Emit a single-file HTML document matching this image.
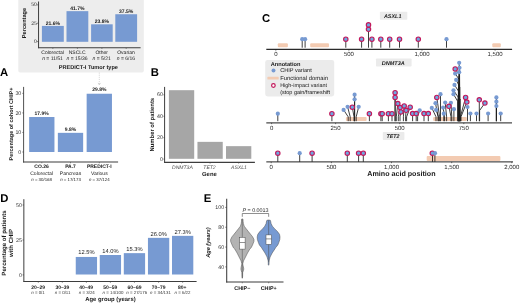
<!DOCTYPE html>
<html lang="en">
<head>
<meta charset="utf-8">
<title>CHIP prevalence figure</title>
<style>
html, body { margin: 0; padding: 0; background: #ffffff; }
body { width: 520px; height: 303px; overflow: hidden; }
svg { display: block; text-rendering: geometricPrecision; font-family: "Liberation Sans", Arial, Helvetica, sans-serif; }
</style>
</head>
<body>
<svg width="520" height="303" viewBox="0 0 520 303">
<rect x="0" y="0" width="520" height="303" fill="#ffffff"/>
<g id="inset">
<rect x="18.30" y="-3.00" width="125.50" height="75.50" fill="#ededed" rx="1.8"/>
<rect x="41.90" y="25.92" width="21.90" height="15.88" fill="#779ad2"/>
<text x="52.8" y="24.5" font-size="5.05" font-weight="bold" text-anchor="middle" fill="#1a1a1a">21.6%</text>
<line x1="52.85" y1="47.80" x2="52.85" y2="49.00" stroke="#3d3d3d" stroke-width="0.5"/>
<text x="52.6" y="53.9" font-size="5" text-anchor="middle" fill="#1a1a1a">Colorectal</text>
<text x="52.5" y="60.4" font-size="5" text-anchor="middle" fill="#1a1a1a"><tspan font-style="italic">n</tspan> = 11/51</text>
<rect x="66.50" y="11.15" width="21.80" height="30.65" fill="#779ad2"/>
<text x="77.4" y="9.8" font-size="5.05" font-weight="bold" text-anchor="middle" fill="#1a1a1a">41.7%</text>
<line x1="77.40" y1="47.80" x2="77.40" y2="49.00" stroke="#3d3d3d" stroke-width="0.5"/>
<text x="77.2" y="53.9" font-size="5" text-anchor="middle" fill="#1a1a1a">NSCLC</text>
<text x="77.1" y="60.4" font-size="5" text-anchor="middle" fill="#1a1a1a"><tspan font-style="italic">n</tspan> = 15/36</text>
<rect x="91.10" y="24.31" width="21.60" height="17.49" fill="#779ad2"/>
<text x="101.9" y="22.9" font-size="5.05" font-weight="bold" text-anchor="middle" fill="#1a1a1a">23.8%</text>
<line x1="101.90" y1="47.80" x2="101.90" y2="49.00" stroke="#3d3d3d" stroke-width="0.5"/>
<text x="101.7" y="53.9" font-size="5" text-anchor="middle" fill="#1a1a1a">Other</text>
<text x="101.6" y="60.4" font-size="5" text-anchor="middle" fill="#1a1a1a"><tspan font-style="italic">n</tspan> = 5/21</text>
<rect x="115.30" y="14.24" width="21.80" height="27.56" fill="#779ad2"/>
<text x="126.2" y="12.8" font-size="5.05" font-weight="bold" text-anchor="middle" fill="#1a1a1a">37.5%</text>
<line x1="126.20" y1="47.80" x2="126.20" y2="49.00" stroke="#3d3d3d" stroke-width="0.5"/>
<text x="126.0" y="53.9" font-size="5" text-anchor="middle" fill="#1a1a1a">Ovarian</text>
<text x="125.9" y="60.4" font-size="5" text-anchor="middle" fill="#1a1a1a"><tspan font-style="italic">n</tspan> = 6/16</text>
<line x1="38.55" y1="1.50" x2="38.55" y2="48.20" stroke="#3d3d3d" stroke-width="1.0"/>
<line x1="38.10" y1="47.70" x2="140.60" y2="47.70" stroke="#3d3d3d" stroke-width="1.05"/>
<line x1="36.80" y1="41.60" x2="38.50" y2="41.60" stroke="#3d3d3d" stroke-width="0.6"/>
<text x="36.9" y="43.2" font-size="5.15" text-anchor="end" fill="#333">0</text>
<line x1="36.80" y1="23.22" x2="38.50" y2="23.22" stroke="#3d3d3d" stroke-width="0.6"/>
<text x="36.9" y="24.8" font-size="5.15" text-anchor="end" fill="#333">25</text>
<line x1="36.80" y1="4.85" x2="38.50" y2="4.85" stroke="#3d3d3d" stroke-width="0.6"/>
<text x="36.9" y="6.4" font-size="5.15" text-anchor="end" fill="#333">50</text>
<text x="26.4" y="23" font-size="5.65" font-weight="bold" text-anchor="middle" fill="#1a1a1a" transform="rotate(-90 26.4 23)">Percentage</text>
<text x="88.35" y="68.6" font-size="5.6" font-weight="bold" text-anchor="middle" fill="#1a1a1a">PREDICT-I Tumor type</text>
</g>
<g id="A">
<text x="-0.1" y="75.7" font-size="11.3" font-weight="bold" fill="#000">A</text>
<line x1="99.30" y1="72.60" x2="99.30" y2="84.00" stroke="#b5b5b5" stroke-width="0.55" stroke-dasharray="1.1 1"/>
<path d="M98.1 82.9 L99.3 84.9 L100.5 82.9" fill="none" stroke="#b5b5b5" stroke-width="0.55"/>
<rect x="29.15" y="117.01" width="25.30" height="34.99" fill="#779ad2"/>
<text x="41.6" y="114.8" font-size="5" font-weight="bold" text-anchor="middle" fill="#1a1a1a">17.9%</text>
<line x1="41.80" y1="162.00" x2="41.80" y2="163.30" stroke="#3d3d3d" stroke-width="0.5"/>
<text x="41.6" y="167.9" font-size="5" font-weight="bold" text-anchor="middle" fill="#1a1a1a">CO.26</text>
<text x="41.6" y="175.3" font-size="5.05" text-anchor="middle" fill="#1a1a1a">Colorectal</text>
<text x="41.6" y="180.6" font-size="4.35" text-anchor="middle" fill="#222"><tspan font-style="italic">n</tspan> = 30/168</text>
<rect x="57.85" y="132.84" width="25.30" height="19.16" fill="#779ad2"/>
<text x="70.5" y="130.6" font-size="5" font-weight="bold" text-anchor="middle" fill="#1a1a1a">9.8%</text>
<line x1="70.50" y1="162.00" x2="70.50" y2="163.30" stroke="#3d3d3d" stroke-width="0.5"/>
<text x="70.5" y="167.9" font-size="5" font-weight="bold" text-anchor="middle" fill="#1a1a1a">PA.7</text>
<text x="70.5" y="175.3" font-size="5.05" text-anchor="middle" fill="#1a1a1a">Pancreas</text>
<text x="70.5" y="180.6" font-size="4.35" text-anchor="middle" fill="#222"><tspan font-style="italic">n</tspan> = 17/173</text>
<rect x="86.65" y="93.74" width="25.30" height="58.26" fill="#779ad2"/>
<text x="99.3" y="91.1" font-size="5" font-weight="bold" text-anchor="middle" fill="#1a1a1a">29.8%</text>
<line x1="99.30" y1="162.00" x2="99.30" y2="163.30" stroke="#3d3d3d" stroke-width="0.5"/>
<text x="99.3" y="167.9" font-size="5" font-weight="bold" text-anchor="middle" fill="#1a1a1a">PREDICT-I</text>
<text x="99.3" y="175.3" font-size="5.05" text-anchor="middle" fill="#1a1a1a">Various</text>
<text x="99.3" y="180.6" font-size="4.35" text-anchor="middle" fill="#222"><tspan font-style="italic">n</tspan> = 37/124</text>
<line x1="23.60" y1="86.90" x2="23.60" y2="162.50" stroke="#3d3d3d" stroke-width="0.9"/>
<line x1="23.10" y1="161.95" x2="118.10" y2="161.95" stroke="#3d3d3d" stroke-width="1.1"/>
<line x1="22.30" y1="152.00" x2="23.60" y2="152.00" stroke="#3d3d3d" stroke-width="0.6"/>
<text x="21.3" y="153.8" font-size="5.3" text-anchor="end" fill="#333333">0</text>
<line x1="22.30" y1="132.45" x2="23.60" y2="132.45" stroke="#3d3d3d" stroke-width="0.6"/>
<text x="21.3" y="134.3" font-size="5.3" text-anchor="end" fill="#333333">10</text>
<line x1="22.30" y1="112.90" x2="23.60" y2="112.90" stroke="#3d3d3d" stroke-width="0.6"/>
<text x="21.3" y="114.8" font-size="5.3" text-anchor="end" fill="#333333">20</text>
<line x1="22.30" y1="93.35" x2="23.60" y2="93.35" stroke="#3d3d3d" stroke-width="0.6"/>
<text x="21.3" y="95.2" font-size="5.3" text-anchor="end" fill="#333333">30</text>
<text x="13.2" y="124.0" font-size="5.5" font-weight="bold" text-anchor="middle" fill="#1a1a1a" transform="rotate(-90 13.2 124.0)">Percentage of cohort CHIP+</text>
</g>
<g id="B">
<text x="150.8" y="75.8" font-size="11.3" font-weight="bold" fill="#000">B</text>
<rect x="168.90" y="90.19" width="25.30" height="68.61" fill="#a6a6a6"/>
<line x1="181.55" y1="162.40" x2="181.55" y2="163.70" stroke="#3d3d3d" stroke-width="0.5"/>
<text x="182.4" y="168.9" font-size="5.05" font-style="italic" text-anchor="middle" fill="#4d4d4d">DNMT3A</text>
<rect x="197.45" y="141.86" width="25.30" height="16.94" fill="#a6a6a6"/>
<line x1="210.10" y1="162.40" x2="210.10" y2="163.70" stroke="#3d3d3d" stroke-width="0.5"/>
<text x="209.5" y="168.9" font-size="5.05" font-style="italic" text-anchor="middle" fill="#4d4d4d">TET2</text>
<rect x="226.00" y="146.15" width="25.30" height="12.65" fill="#a6a6a6"/>
<line x1="238.65" y1="162.40" x2="238.65" y2="163.70" stroke="#3d3d3d" stroke-width="0.5"/>
<text x="238.9" y="168.9" font-size="5.05" font-style="italic" text-anchor="middle" fill="#4d4d4d">ASXL1</text>
<line x1="164.60" y1="86.90" x2="164.60" y2="162.90" stroke="#3d3d3d" stroke-width="1.0"/>
<line x1="164.10" y1="162.40" x2="254.90" y2="162.40" stroke="#3d3d3d" stroke-width="1.1"/>
<line x1="163.30" y1="159.10" x2="164.60" y2="159.10" stroke="#3d3d3d" stroke-width="0.6"/>
<text x="162.9" y="160.7" font-size="5.3" text-anchor="end" fill="#333333">0</text>
<line x1="163.30" y1="137.66" x2="164.60" y2="137.66" stroke="#3d3d3d" stroke-width="0.6"/>
<text x="162.9" y="139.2" font-size="5.3" text-anchor="end" fill="#333333">20</text>
<line x1="163.30" y1="116.22" x2="164.60" y2="116.22" stroke="#3d3d3d" stroke-width="0.6"/>
<text x="162.9" y="117.8" font-size="5.3" text-anchor="end" fill="#333333">40</text>
<line x1="163.30" y1="94.78" x2="164.60" y2="94.78" stroke="#3d3d3d" stroke-width="0.6"/>
<text x="162.9" y="96.3" font-size="5.3" text-anchor="end" fill="#333333">60</text>
<text x="153.9" y="124.7" font-size="5.9" font-weight="bold" text-anchor="middle" fill="#1a1a1a" transform="rotate(-90 153.9 124.7)">Number of patients</text>
<text x="209.4" y="175.6" font-size="5.9" font-weight="bold" text-anchor="middle" fill="#1a1a1a">Gene</text>
</g>
<g id="C">
<text x="261.9" y="21.6" font-size="11.3" font-weight="bold" fill="#000">C</text>
<rect x="379.90" y="11.70" width="27.40" height="8.00" fill="#ebebeb" rx="0.8"/>
<text x="392.7" y="17.7" font-size="5.45" font-weight="bold" font-style="italic" text-anchor="middle" fill="#1a1a1a">ASXL1</text>
<rect x="277.80" y="43.20" width="10.10" height="4.00" fill="#f3cbb2" rx="1.0"/>
<rect x="310.20" y="43.20" width="18.80" height="4.00" fill="#f3cbb2" rx="1.0"/>
<rect x="492.30" y="43.20" width="8.50" height="4.00" fill="#f3cbb2" rx="1.0"/>
<path d="M302.2 47.7V40.0" stroke="#1c1c1c" stroke-width="0.85" fill="none"/>
<path d="M305.1 47.7V40.0" stroke="#1c1c1c" stroke-width="0.85" fill="none"/>
<path d="M446.5 47.7V40.0" stroke="#1c1c1c" stroke-width="0.85" fill="none"/>
<path d="M345.8 47.7V40.0" stroke="#1c1c1c" stroke-width="0.85" fill="none"/>
<path d="M361.6 47.7V40.0" stroke="#1c1c1c" stroke-width="0.85" fill="none"/>
<path d="M371.9 47.7V40.0" stroke="#1c1c1c" stroke-width="0.85" fill="none"/>
<path d="M380.8 47.7V40.0" stroke="#1c1c1c" stroke-width="0.85" fill="none"/>
<path d="M389.7 47.7V40.0" stroke="#1c1c1c" stroke-width="0.85" fill="none"/>
<path d="M399.5 47.7V40.0" stroke="#1c1c1c" stroke-width="0.85" fill="none"/>
<path d="M418.3 47.7V40.0" stroke="#1c1c1c" stroke-width="0.85" fill="none"/>
<path d="M368.5 47.7V26.0" stroke="#1c1c1c" stroke-width="0.85" fill="none"/>
<circle cx="302.2" cy="39.2" r="2.1" fill="#779ad2"/>
<circle cx="305.1" cy="39.2" r="2.1" fill="#779ad2"/>
<circle cx="446.5" cy="39.2" r="2.1" fill="#779ad2"/>
<circle cx="345.8" cy="39.2" r="2.2" fill="#6ea8e2" stroke="#c2185b" stroke-width="1.15"/>
<circle cx="361.6" cy="39.2" r="2.2" fill="#6ea8e2" stroke="#c2185b" stroke-width="1.15"/>
<circle cx="371.9" cy="39.2" r="2.2" fill="#6ea8e2" stroke="#c2185b" stroke-width="1.15"/>
<circle cx="380.8" cy="39.2" r="2.2" fill="#6ea8e2" stroke="#c2185b" stroke-width="1.15"/>
<circle cx="389.7" cy="39.2" r="2.2" fill="#6ea8e2" stroke="#c2185b" stroke-width="1.15"/>
<circle cx="399.5" cy="39.2" r="2.2" fill="#6ea8e2" stroke="#c2185b" stroke-width="1.15"/>
<circle cx="418.3" cy="39.2" r="2.2" fill="#6ea8e2" stroke="#c2185b" stroke-width="1.15"/>
<circle cx="368.5" cy="29.3" r="2.2" fill="#6ea8e2" stroke="#c2185b" stroke-width="1.15"/>
<circle cx="368.5" cy="24.9" r="2.2" fill="#6ea8e2" stroke="#c2185b" stroke-width="1.15"/>
<line x1="266.30" y1="49.40" x2="512.10" y2="49.40" stroke="#2a2a2a" stroke-width="1.1"/>
<line x1="275.80" y1="49.40" x2="275.80" y2="50.70" stroke="#222" stroke-width="0.6"/>
<text x="275.8" y="56.1" font-size="6.0" text-anchor="middle" fill="#2a2a2a">0</text>
<line x1="348.90" y1="49.40" x2="348.90" y2="50.70" stroke="#222" stroke-width="0.6"/>
<text x="348.9" y="56.1" font-size="6.0" text-anchor="middle" fill="#2a2a2a">500</text>
<line x1="422.00" y1="49.40" x2="422.00" y2="50.70" stroke="#222" stroke-width="0.6"/>
<text x="422.0" y="56.1" font-size="6.0" text-anchor="middle" fill="#2a2a2a">1,000</text>
<line x1="495.10" y1="49.40" x2="495.10" y2="50.70" stroke="#222" stroke-width="0.6"/>
<text x="495.1" y="56.1" font-size="6.0" text-anchor="middle" fill="#2a2a2a">1,500</text>
<rect x="265.20" y="60.00" width="69.00" height="36.40" fill="#ebebeb" rx="2.4"/>
<text x="270.7" y="65.7" font-size="5.65" font-weight="bold" fill="#1a1a1a">Annotation</text>
<circle cx="273.5" cy="70.5" r="1.95" fill="#779ad2"/>
<text x="280.2" y="72.0" font-size="5.58" fill="#1a1a1a">CHIP variant</text>
<rect x="267.40" y="76.80" width="11.30" height="2.80" fill="#f3cbb2" rx="0.6"/>
<text x="280.2" y="79.7" font-size="5.85" fill="#1a1a1a">Functional domain</text>
<circle cx="273.4" cy="85.5" r="1.8" fill="#fff" stroke="#c2185b" stroke-width="1.2"/>
<text x="280.2" y="86.9" font-size="5.45" fill="#1a1a1a">High-impact variant</text>
<text x="280.2" y="93.5" font-size="5.5" fill="#1a1a1a">(stop gain/frameshift</text>
<rect x="376.00" y="58.40" width="35.60" height="8.10" fill="#ebebeb" rx="0.8"/>
<text x="393.3" y="64.7" font-size="5.5" font-weight="bold" font-style="italic" text-anchor="middle" fill="#1a1a1a">DNMT3A</text>
<rect x="345.90" y="116.90" width="20.70" height="4.00" fill="#f3cbb2" rx="1.0"/>
<rect x="433.20" y="116.90" width="33.60" height="4.00" fill="#f3cbb2" rx="1.0"/>
<path d="M277.8 121.2V113.7" stroke="#1c1c1c" stroke-width="0.85" fill="none"/>
<path d="M348.2 121.2V116.8L343.6 109.9" stroke="#1c1c1c" stroke-width="0.85" fill="none" stroke-linejoin="round"/>
<path d="M350.2 121.2V116.8L347.6 106.8" stroke="#1c1c1c" stroke-width="0.85" fill="none" stroke-linejoin="round"/>
<path d="M354.6 121.2V99.3" stroke="#1c1c1c" stroke-width="0.85" fill="none"/>
<path d="M354.6 121.2V94.7" stroke="#1c1c1c" stroke-width="0.85" fill="none"/>
<path d="M356.2 121.2V116.8L358.7 106.8" stroke="#1c1c1c" stroke-width="0.85" fill="none" stroke-linejoin="round"/>
<path d="M417.6 121.2V116.8L419.7 110.3" stroke="#1c1c1c" stroke-width="0.85" fill="none" stroke-linejoin="round"/>
<path d="M436.0 121.2V116.8L431.8 107.9" stroke="#1c1c1c" stroke-width="0.85" fill="none" stroke-linejoin="round"/>
<path d="M438.0 121.2V116.8L435.5 103.2" stroke="#1c1c1c" stroke-width="0.85" fill="none" stroke-linejoin="round"/>
<path d="M438.6 121.2V116.8L436.1 109.9" stroke="#1c1c1c" stroke-width="0.85" fill="none" stroke-linejoin="round"/>
<path d="M440.5 121.2V94.2" stroke="#1c1c1c" stroke-width="0.85" fill="none"/>
<path d="M444.6 121.2V116.8L443.1 107.6" stroke="#1c1c1c" stroke-width="0.85" fill="none" stroke-linejoin="round"/>
<path d="M443.8 121.2V113.7" stroke="#1c1c1c" stroke-width="0.85" fill="none"/>
<path d="M446.6 121.2V116.8L445.2 102.5" stroke="#1c1c1c" stroke-width="0.85" fill="none" stroke-linejoin="round"/>
<path d="M451.8 121.2V116.8L450.9 102.8" stroke="#1c1c1c" stroke-width="0.85" fill="none" stroke-linejoin="round"/>
<path d="M453.9 121.2V109.2" stroke="#1c1c1c" stroke-width="0.85" fill="none"/>
<path d="M459.6 121.2V116.8L459.2 62.8" stroke="#1c1c1c" stroke-width="0.85" fill="none" stroke-linejoin="round"/>
<path d="M459.9 121.2V116.8L459.5 67.8" stroke="#1c1c1c" stroke-width="0.85" fill="none" stroke-linejoin="round"/>
<path d="M459.3 121.2V116.8L459.2 72.2" stroke="#1c1c1c" stroke-width="0.85" fill="none" stroke-linejoin="round"/>
<path d="M458.9 121.2V79.0L455.1 73.6" stroke="#1c1c1c" stroke-width="0.85" fill="none" stroke-linejoin="round"/>
<path d="M458.7 121.2V85.0L456.2 79.9" stroke="#1c1c1c" stroke-width="0.85" fill="none" stroke-linejoin="round"/>
<path d="M458.4 121.2V91.0L454.5 84.9" stroke="#1c1c1c" stroke-width="0.85" fill="none" stroke-linejoin="round"/>
<path d="M458.1 121.2V97.0L453.5 90.3" stroke="#1c1c1c" stroke-width="0.85" fill="none" stroke-linejoin="round"/>
<path d="M457.8 121.2V101.5L453.5 94.2" stroke="#1c1c1c" stroke-width="0.85" fill="none" stroke-linejoin="round"/>
<path d="M467.5 121.2V107.0" stroke="#1c1c1c" stroke-width="0.85" fill="none"/>
<path d="M470.4 121.2V113.5" stroke="#1c1c1c" stroke-width="0.85" fill="none"/>
<path d="M476.5 121.2V113.5" stroke="#1c1c1c" stroke-width="0.85" fill="none"/>
<path d="M488.1 121.2V113.5" stroke="#1c1c1c" stroke-width="0.85" fill="none"/>
<path d="M496.4 121.2V106.0" stroke="#1c1c1c" stroke-width="0.85" fill="none"/>
<path d="M496.4 121.2V101.7" stroke="#1c1c1c" stroke-width="0.85" fill="none"/>
<path d="M496.4 121.2V97.4" stroke="#1c1c1c" stroke-width="0.85" fill="none"/>
<path d="M500.7 121.2V113.5" stroke="#1c1c1c" stroke-width="0.85" fill="none"/>
<path d="M331.9 121.2V113.7" stroke="#1c1c1c" stroke-width="0.85" fill="none"/>
<path d="M354.0 121.2V116.8L352.3 107.2" stroke="#1c1c1c" stroke-width="0.85" fill="none" stroke-linejoin="round"/>
<path d="M369.4 121.2V113.7" stroke="#1c1c1c" stroke-width="0.85" fill="none"/>
<path d="M380.9 121.2V113.7" stroke="#1c1c1c" stroke-width="0.85" fill="none"/>
<path d="M382.2 121.2V113.7" stroke="#1c1c1c" stroke-width="0.85" fill="none"/>
<path d="M388.4 121.2V113.7" stroke="#1c1c1c" stroke-width="0.85" fill="none"/>
<path d="M392.0 121.2V113.7" stroke="#1c1c1c" stroke-width="0.85" fill="none"/>
<path d="M395.1 121.2V97.4" stroke="#1c1c1c" stroke-width="0.85" fill="none"/>
<path d="M395.1 121.2V92.7" stroke="#1c1c1c" stroke-width="0.85" fill="none"/>
<path d="M396.3 121.2V116.8L397.8 103.6" stroke="#1c1c1c" stroke-width="0.85" fill="none" stroke-linejoin="round"/>
<path d="M398.3 121.2V116.8L400.1 107.6" stroke="#1c1c1c" stroke-width="0.85" fill="none" stroke-linejoin="round"/>
<path d="M400.0 121.2V116.8L400.9 111.9" stroke="#1c1c1c" stroke-width="0.85" fill="none" stroke-linejoin="round"/>
<path d="M403.4 121.2V116.8L404.2 105.9" stroke="#1c1c1c" stroke-width="0.85" fill="none" stroke-linejoin="round"/>
<path d="M405.6 121.2V116.8L406.1 110.3" stroke="#1c1c1c" stroke-width="0.85" fill="none" stroke-linejoin="round"/>
<path d="M406.6 121.2V116.8L410.2 107.2" stroke="#1c1c1c" stroke-width="0.85" fill="none" stroke-linejoin="round"/>
<path d="M412.6 121.2V113.5" stroke="#1c1c1c" stroke-width="0.85" fill="none"/>
<path d="M416.2 121.2V113.5" stroke="#1c1c1c" stroke-width="0.85" fill="none"/>
<path d="M424.0 121.2V113.5" stroke="#1c1c1c" stroke-width="0.85" fill="none"/>
<path d="M428.3 121.2V113.5" stroke="#1c1c1c" stroke-width="0.85" fill="none"/>
<path d="M439.6 121.2V116.8L436.8 97.4" stroke="#1c1c1c" stroke-width="0.85" fill="none" stroke-linejoin="round"/>
<path d="M451.0 121.2V116.8L448.9 106.3" stroke="#1c1c1c" stroke-width="0.85" fill="none" stroke-linejoin="round"/>
<path d="M459.0 121.2V74.5L455.2 68.9" stroke="#1c1c1c" stroke-width="0.85" fill="none" stroke-linejoin="round"/>
<path d="M460.4 121.2V116.8L465.6 97.4" stroke="#1c1c1c" stroke-width="0.85" fill="none" stroke-linejoin="round"/>
<path d="M461.0 121.2V116.8L466.8 102.0" stroke="#1c1c1c" stroke-width="0.85" fill="none" stroke-linejoin="round"/>
<path d="M479.3 121.2V99.8" stroke="#1c1c1c" stroke-width="0.85" fill="none"/>
<path d="M479.6 121.2V110.5L484.9 103.0" stroke="#1c1c1c" stroke-width="0.85" fill="none" stroke-linejoin="round"/>
<path d="M459.1 121.2V99" stroke="#1c1c1c" stroke-width="3.0" fill="none"/>
<path d="M459.2 100V87" stroke="#1c1c1c" stroke-width="2.1" fill="none"/>
<path d="M459.3 88V76" stroke="#1c1c1c" stroke-width="1.4" fill="none"/>
<circle cx="277.8" cy="113.7" r="2.1" fill="#779ad2"/>
<circle cx="343.6" cy="109.9" r="2.1" fill="#779ad2"/>
<circle cx="347.6" cy="106.8" r="2.1" fill="#779ad2"/>
<circle cx="354.6" cy="99.3" r="2.1" fill="#779ad2"/>
<circle cx="354.6" cy="94.7" r="2.1" fill="#779ad2"/>
<circle cx="358.7" cy="106.8" r="2.1" fill="#779ad2"/>
<circle cx="419.7" cy="110.3" r="2.1" fill="#779ad2"/>
<circle cx="431.8" cy="107.9" r="2.1" fill="#779ad2"/>
<circle cx="435.5" cy="103.2" r="2.1" fill="#779ad2"/>
<circle cx="436.1" cy="109.9" r="2.1" fill="#779ad2"/>
<circle cx="440.5" cy="94.2" r="2.1" fill="#779ad2"/>
<circle cx="443.1" cy="107.6" r="2.1" fill="#779ad2"/>
<circle cx="443.8" cy="113.7" r="2.1" fill="#779ad2"/>
<circle cx="445.2" cy="102.5" r="2.1" fill="#779ad2"/>
<circle cx="450.9" cy="102.8" r="2.1" fill="#779ad2"/>
<circle cx="453.9" cy="109.2" r="2.1" fill="#779ad2"/>
<circle cx="459.2" cy="62.8" r="2.1" fill="#779ad2"/>
<circle cx="459.5" cy="67.8" r="2.1" fill="#779ad2"/>
<circle cx="459.2" cy="72.2" r="2.1" fill="#779ad2"/>
<circle cx="455.1" cy="73.6" r="2.1" fill="#779ad2"/>
<circle cx="456.2" cy="79.9" r="2.1" fill="#779ad2"/>
<circle cx="454.5" cy="84.9" r="2.1" fill="#779ad2"/>
<circle cx="453.5" cy="90.3" r="2.1" fill="#779ad2"/>
<circle cx="453.5" cy="94.2" r="2.1" fill="#779ad2"/>
<circle cx="467.5" cy="107.0" r="2.1" fill="#779ad2"/>
<circle cx="470.4" cy="113.5" r="2.1" fill="#779ad2"/>
<circle cx="476.5" cy="113.5" r="2.1" fill="#779ad2"/>
<circle cx="488.1" cy="113.5" r="2.1" fill="#779ad2"/>
<circle cx="496.4" cy="106.0" r="2.1" fill="#779ad2"/>
<circle cx="496.4" cy="101.7" r="2.1" fill="#779ad2"/>
<circle cx="496.4" cy="97.4" r="2.1" fill="#779ad2"/>
<circle cx="500.7" cy="113.5" r="2.1" fill="#779ad2"/>
<circle cx="331.9" cy="113.7" r="2.2" fill="#6ea8e2" stroke="#c2185b" stroke-width="1.15"/>
<circle cx="352.3" cy="107.2" r="2.2" fill="#6ea8e2" stroke="#c2185b" stroke-width="1.15"/>
<circle cx="369.4" cy="113.7" r="2.2" fill="#6ea8e2" stroke="#c2185b" stroke-width="1.15"/>
<circle cx="380.9" cy="113.7" r="2.2" fill="#6ea8e2" stroke="#c2185b" stroke-width="1.15"/>
<circle cx="382.2" cy="113.7" r="2.2" fill="#6ea8e2" stroke="#c2185b" stroke-width="1.15"/>
<circle cx="388.4" cy="113.7" r="2.2" fill="#6ea8e2" stroke="#c2185b" stroke-width="1.15"/>
<circle cx="392.0" cy="113.7" r="2.2" fill="#6ea8e2" stroke="#c2185b" stroke-width="1.15"/>
<circle cx="395.1" cy="97.4" r="2.2" fill="#6ea8e2" stroke="#c2185b" stroke-width="1.15"/>
<circle cx="395.1" cy="92.7" r="2.2" fill="#6ea8e2" stroke="#c2185b" stroke-width="1.15"/>
<circle cx="397.8" cy="103.6" r="2.2" fill="#6ea8e2" stroke="#c2185b" stroke-width="1.15"/>
<circle cx="400.1" cy="107.6" r="2.2" fill="#6ea8e2" stroke="#c2185b" stroke-width="1.15"/>
<circle cx="400.9" cy="111.9" r="2.2" fill="#6ea8e2" stroke="#c2185b" stroke-width="1.15"/>
<circle cx="404.2" cy="105.9" r="2.2" fill="#6ea8e2" stroke="#c2185b" stroke-width="1.15"/>
<circle cx="406.1" cy="110.3" r="2.2" fill="#6ea8e2" stroke="#c2185b" stroke-width="1.15"/>
<circle cx="410.2" cy="107.2" r="2.2" fill="#6ea8e2" stroke="#c2185b" stroke-width="1.15"/>
<circle cx="412.6" cy="113.5" r="2.2" fill="#6ea8e2" stroke="#c2185b" stroke-width="1.15"/>
<circle cx="416.2" cy="113.5" r="2.2" fill="#6ea8e2" stroke="#c2185b" stroke-width="1.15"/>
<circle cx="424.0" cy="113.5" r="2.2" fill="#6ea8e2" stroke="#c2185b" stroke-width="1.15"/>
<circle cx="428.3" cy="113.5" r="2.2" fill="#6ea8e2" stroke="#c2185b" stroke-width="1.15"/>
<circle cx="436.8" cy="97.4" r="2.2" fill="#6ea8e2" stroke="#c2185b" stroke-width="1.15"/>
<circle cx="448.9" cy="106.3" r="2.2" fill="#6ea8e2" stroke="#c2185b" stroke-width="1.15"/>
<circle cx="455.2" cy="68.9" r="2.2" fill="#6ea8e2" stroke="#c2185b" stroke-width="1.15"/>
<circle cx="465.6" cy="97.4" r="2.2" fill="#6ea8e2" stroke="#c2185b" stroke-width="1.15"/>
<circle cx="466.8" cy="102.0" r="2.2" fill="#6ea8e2" stroke="#c2185b" stroke-width="1.15"/>
<circle cx="479.3" cy="99.8" r="2.2" fill="#6ea8e2" stroke="#c2185b" stroke-width="1.15"/>
<circle cx="484.9" cy="103.0" r="2.2" fill="#6ea8e2" stroke="#c2185b" stroke-width="1.15"/>
<line x1="266.30" y1="122.85" x2="512.00" y2="122.85" stroke="#4a4a4a" stroke-width="1.25"/>
<line x1="271.60" y1="122.85" x2="271.60" y2="124.15" stroke="#222" stroke-width="0.6"/>
<text x="271.6" y="129.5" font-size="6.0" text-anchor="middle" fill="#2a2a2a">0</text>
<line x1="335.60" y1="122.85" x2="335.60" y2="124.15" stroke="#222" stroke-width="0.6"/>
<text x="335.6" y="129.5" font-size="6.0" text-anchor="middle" fill="#2a2a2a">250</text>
<line x1="399.70" y1="122.85" x2="399.70" y2="124.15" stroke="#222" stroke-width="0.6"/>
<text x="399.7" y="129.5" font-size="6.0" text-anchor="middle" fill="#2a2a2a">500</text>
<line x1="463.80" y1="122.85" x2="463.80" y2="124.15" stroke="#222" stroke-width="0.6"/>
<text x="463.8" y="129.5" font-size="6.0" text-anchor="middle" fill="#2a2a2a">750</text>
<rect x="382.80" y="132.00" width="21.60" height="8.00" fill="#ebebeb" rx="0.8"/>
<text x="392.9" y="138.3" font-size="5.3" font-weight="bold" font-style="italic" text-anchor="middle" fill="#1a1a1a">TET2</text>
<rect x="426.70" y="156.10" width="73.70" height="4.80" fill="#f3cbb2" rx="1.0"/>
<path d="M299.7 161.9V154.0" stroke="#1c1c1c" stroke-width="0.85" fill="none"/>
<path d="M277.8 161.9V154.0" stroke="#1c1c1c" stroke-width="0.85" fill="none"/>
<path d="M312.1 161.9V154.0" stroke="#1c1c1c" stroke-width="0.85" fill="none"/>
<path d="M347.3 161.9V154.0" stroke="#1c1c1c" stroke-width="0.85" fill="none"/>
<path d="M358.6 161.9V154.0" stroke="#1c1c1c" stroke-width="0.85" fill="none"/>
<path d="M363.3 161.9V154.0" stroke="#1c1c1c" stroke-width="0.85" fill="none"/>
<path d="M432.5 161.9V154.0" stroke="#1c1c1c" stroke-width="0.85" fill="none"/>
<path d="M434.9 161.9V154.0" stroke="#1c1c1c" stroke-width="0.85" fill="none"/>
<circle cx="299.7" cy="153.2" r="2.1" fill="#779ad2"/>
<circle cx="277.8" cy="153.2" r="2.2" fill="#6ea8e2" stroke="#c2185b" stroke-width="1.15"/>
<circle cx="312.1" cy="153.2" r="2.2" fill="#6ea8e2" stroke="#c2185b" stroke-width="1.15"/>
<circle cx="347.3" cy="153.2" r="2.2" fill="#6ea8e2" stroke="#c2185b" stroke-width="1.15"/>
<circle cx="358.6" cy="153.2" r="2.2" fill="#6ea8e2" stroke="#c2185b" stroke-width="1.15"/>
<circle cx="363.3" cy="153.2" r="2.2" fill="#6ea8e2" stroke="#c2185b" stroke-width="1.15"/>
<circle cx="432.3" cy="153.2" r="2.2" fill="#6ea8e2" stroke="#c2185b" stroke-width="1.15"/>
<circle cx="435.0" cy="153.2" r="2.1" fill="#779ad2"/>
<line x1="266.30" y1="161.90" x2="513.00" y2="161.90" stroke="#222" stroke-width="1.0"/>
<line x1="271.20" y1="161.90" x2="271.20" y2="163.20" stroke="#222" stroke-width="0.6"/>
<text x="271.2" y="168.6" font-size="6.0" text-anchor="middle" fill="#2a2a2a">0</text>
<line x1="331.40" y1="161.90" x2="331.40" y2="163.20" stroke="#222" stroke-width="0.6"/>
<text x="331.4" y="168.6" font-size="6.0" text-anchor="middle" fill="#2a2a2a">500</text>
<line x1="391.50" y1="161.90" x2="391.50" y2="163.20" stroke="#222" stroke-width="0.6"/>
<text x="391.5" y="168.6" font-size="6.0" text-anchor="middle" fill="#2a2a2a">1,000</text>
<line x1="451.70" y1="161.90" x2="451.70" y2="163.20" stroke="#222" stroke-width="0.6"/>
<text x="451.7" y="168.6" font-size="6.0" text-anchor="middle" fill="#2a2a2a">1,500</text>
<line x1="511.80" y1="161.90" x2="511.80" y2="163.20" stroke="#222" stroke-width="0.6"/>
<text x="511.8" y="168.6" font-size="6.0" text-anchor="middle" fill="#2a2a2a">2,000</text>
<text x="401.4" y="175.7" font-size="7.15" font-weight="bold" text-anchor="middle" fill="#1a1a1a">Amino acid position</text>
</g>
<g id="D">
<text x="0.3" y="202.1" font-size="11.3" font-weight="bold" fill="#000">D</text>
<line x1="38.30" y1="281.50" x2="38.30" y2="282.90" stroke="#3d3d3d" stroke-width="0.5"/>
<text x="38.1" y="288.6" font-size="5.0" font-weight="bold" text-anchor="middle" fill="#1a1a1a">20–29</text>
<text x="38.0" y="293.8" font-size="4.4" text-anchor="middle" fill="#333"><tspan font-style="italic">n</tspan> = 0/1</text>
<line x1="62.30" y1="281.50" x2="62.30" y2="282.90" stroke="#3d3d3d" stroke-width="0.5"/>
<text x="62.4" y="288.6" font-size="5.0" font-weight="bold" text-anchor="middle" fill="#1a1a1a">30–39</text>
<text x="62.6" y="293.8" font-size="4.4" text-anchor="middle" fill="#333"><tspan font-style="italic">n</tspan> = 0/11</text>
<rect x="75.75" y="256.95" width="21.30" height="17.55" fill="#779ad2"/>
<text x="86.4" y="254.4" font-size="5.75" text-anchor="middle" fill="#1a1a1a">12.5%</text>
<line x1="86.40" y1="281.50" x2="86.40" y2="282.90" stroke="#3d3d3d" stroke-width="0.5"/>
<text x="86.2" y="288.6" font-size="5.0" font-weight="bold" text-anchor="middle" fill="#1a1a1a">40–49</text>
<text x="86.8" y="293.8" font-size="4.4" text-anchor="middle" fill="#333"><tspan font-style="italic">n</tspan> = 3/24</text>
<rect x="99.75" y="255.00" width="21.30" height="19.50" fill="#779ad2"/>
<text x="110.4" y="252.5" font-size="5.75" text-anchor="middle" fill="#1a1a1a">14.0%</text>
<line x1="110.40" y1="281.50" x2="110.40" y2="282.90" stroke="#3d3d3d" stroke-width="0.5"/>
<text x="110.3" y="288.6" font-size="5.0" font-weight="bold" text-anchor="middle" fill="#1a1a1a">50–59</text>
<text x="113.0" y="293.8" font-size="4.4" text-anchor="middle" fill="#333"><tspan font-style="italic">n</tspan> = 14/100</text>
<rect x="123.80" y="253.15" width="21.30" height="21.35" fill="#779ad2"/>
<text x="134.45" y="250.7" font-size="5.75" text-anchor="middle" fill="#1a1a1a">15.3%</text>
<line x1="134.45" y1="281.50" x2="134.45" y2="282.90" stroke="#3d3d3d" stroke-width="0.5"/>
<text x="134.5" y="288.6" font-size="5.0" font-weight="bold" text-anchor="middle" fill="#1a1a1a">60–69</text>
<text x="136.7" y="293.8" font-size="4.4" text-anchor="middle" fill="#333"><tspan font-style="italic">n</tspan> = 27/176</text>
<rect x="147.95" y="237.85" width="21.30" height="36.65" fill="#779ad2"/>
<text x="158.6" y="235.8" font-size="5.75" text-anchor="middle" fill="#1a1a1a">26.0%</text>
<line x1="158.60" y1="281.50" x2="158.60" y2="282.90" stroke="#3d3d3d" stroke-width="0.5"/>
<text x="158.6" y="288.6" font-size="5.0" font-weight="bold" text-anchor="middle" fill="#1a1a1a">70–79</text>
<text x="160.5" y="293.8" font-size="4.4" text-anchor="middle" fill="#333"><tspan font-style="italic">n</tspan> = 34/131</text>
<rect x="172.00" y="235.85" width="21.30" height="38.65" fill="#779ad2"/>
<text x="182.65" y="233.8" font-size="5.75" text-anchor="middle" fill="#1a1a1a">27.3%</text>
<line x1="182.65" y1="281.50" x2="182.65" y2="282.90" stroke="#3d3d3d" stroke-width="0.5"/>
<text x="182.3" y="288.6" font-size="5.0" font-weight="bold" text-anchor="middle" fill="#1a1a1a">80+</text>
<text x="182.5" y="293.8" font-size="4.4" text-anchor="middle" fill="#333"><tspan font-style="italic">n</tspan> = 6/22</text>
<line x1="23.85" y1="199.20" x2="23.85" y2="282.00" stroke="#3d3d3d" stroke-width="1.0"/>
<line x1="23.50" y1="281.50" x2="196.60" y2="281.50" stroke="#3d3d3d" stroke-width="1.1"/>
<line x1="22.50" y1="274.90" x2="23.90" y2="274.90" stroke="#3d3d3d" stroke-width="0.6"/>
<text x="21.9" y="276.8" font-size="5.3" text-anchor="end" fill="#333333">0</text>
<line x1="22.50" y1="240.00" x2="23.90" y2="240.00" stroke="#3d3d3d" stroke-width="0.6"/>
<text x="21.9" y="241.9" font-size="5.3" text-anchor="end" fill="#333333">25</text>
<line x1="22.50" y1="205.00" x2="23.90" y2="205.00" stroke="#3d3d3d" stroke-width="0.6"/>
<text x="21.9" y="206.9" font-size="5.3" text-anchor="end" fill="#333333">50</text>
<text x="5.8" y="243" font-size="6.1" font-weight="bold" text-anchor="middle" fill="#1a1a1a" transform="rotate(-90 5.8 243)">Percentage of patients</text>
<text x="12.7" y="243" font-size="6.0" font-weight="bold" text-anchor="middle" fill="#1a1a1a" transform="rotate(-90 12.7 243)">with CHIP</text>
<text x="110.45" y="301.4" font-size="5.9" font-weight="bold" text-anchor="middle" fill="#1a1a1a">Age group (years)</text>
</g>
<g id="E">
<text x="203.8" y="202.1" font-size="11.3" font-weight="bold" fill="#000">E</text>
<path d="M242.3 278.3L242.0 276.8L241.9 272.4L241.3 270.9L240.9 269.0L241.2 266.9L241.7 264.9L241.8 263.6L241.1 260.9L239.1 257.0L237.1 253.0L234.7 248.9L233.4 247.7L232.1 245.0L230.7 241.6L230.6 239.6L231.9 236.9L234.0 234.3L236.2 231.6L238.3 228.9L240.4 226.2L241.2 223.6L241.5 221.3L241.6 219.1L242.3 218.9L242.3 218.9L243.0 219.1L243.1 221.3L243.4 223.6L244.2 226.2L246.3 228.9L248.4 231.6L250.6 234.3L252.7 236.9L254.0 239.6L253.9 241.6L252.5 245.0L251.2 247.7L249.9 248.9L247.5 253.0L245.5 257.0L243.5 260.9L242.8 263.6L242.9 264.9L243.4 266.9L243.8 269.0L243.3 270.9L242.7 272.4L242.6 276.8L242.3 278.3Z" fill="#b3b3b3" stroke="#4a4a4a" stroke-width="0.5" stroke-linejoin="round"/>
<path d="M268.6 265.2L268.3 264.9L268.2 260.9L267.8 259.7L267.1 257.0L265.0 253.0L262.3 248.9L261.6 247.7L259.4 245.0L258.3 242.3L257.4 239.6L257.2 236.9L257.8 234.3L259.8 231.6L262.5 228.9L264.8 226.2L266.1 223.6L266.6 221.0L266.9 220.3L268.6 220.0L268.6 220.0L270.3 220.3L270.6 221.0L271.1 223.6L272.4 226.2L274.8 228.9L277.5 231.6L279.5 234.3L280.0 236.9L279.8 239.6L278.9 242.3L277.8 245.0L275.6 247.7L274.9 248.9L272.2 253.0L270.1 257.0L269.4 259.7L269.1 260.9L269.0 264.9L268.6 265.2Z" fill="#779ad2" stroke="#4a4a4a" stroke-width="0.5" stroke-linejoin="round"/>
<line x1="242.30" y1="219.28" x2="242.30" y2="277.81" stroke="#4a4a4a" stroke-width="0.5"/>
<rect x="239.7" y="237.4" width="5.4" height="11.7" fill="#fff" stroke="#4a4a4a" stroke-width="0.5"/>
<line x1="239.70" y1="242.50" x2="245.10" y2="242.50" stroke="#4a4a4a" stroke-width="0.6"/>
<line x1="268.65" y1="220.28" x2="268.65" y2="261.94" stroke="#4a4a4a" stroke-width="0.5"/>
<rect x="266.0" y="234.9" width="5.4" height="9.4" fill="#fff" stroke="#4a4a4a" stroke-width="0.5"/>
<line x1="266.00" y1="238.90" x2="271.40" y2="238.90" stroke="#4a4a4a" stroke-width="0.6"/>
<path d="M242.3 216.8V213.5H268.65V216.8" fill="none" stroke="#333" stroke-width="0.55"/>
<text x="255.5" y="211.8" font-size="5.4" text-anchor="middle" fill="#222"><tspan font-style="italic">P</tspan> = 0.0013</text>
<line x1="226.70" y1="198.70" x2="226.70" y2="282.50" stroke="#3d3d3d" stroke-width="1.05"/>
<line x1="226.20" y1="282.00" x2="283.50" y2="282.00" stroke="#3d3d3d" stroke-width="1.1"/>
<line x1="225.20" y1="266.90" x2="226.70" y2="266.90" stroke="#3d3d3d" stroke-width="0.6"/>
<text x="224.2" y="268.8" font-size="5.3" text-anchor="end" fill="#383838">40</text>
<line x1="225.20" y1="247.06" x2="226.70" y2="247.06" stroke="#3d3d3d" stroke-width="0.6"/>
<text x="224.2" y="248.9" font-size="5.3" text-anchor="end" fill="#383838">60</text>
<line x1="225.20" y1="227.22" x2="226.70" y2="227.22" stroke="#3d3d3d" stroke-width="0.6"/>
<text x="224.2" y="229.1" font-size="5.3" text-anchor="end" fill="#383838">80</text>
<line x1="225.20" y1="207.38" x2="226.70" y2="207.38" stroke="#3d3d3d" stroke-width="0.6"/>
<text x="224.2" y="209.2" font-size="5.3" text-anchor="end" fill="#383838">100</text>
<line x1="242.30" y1="282.00" x2="242.30" y2="283.30" stroke="#3d3d3d" stroke-width="0.5"/>
<text x="242.3" y="289.8" font-size="5.4" font-weight="bold" text-anchor="middle" fill="#1a1a1a">CHIP−</text>
<line x1="268.65" y1="282.00" x2="268.65" y2="283.30" stroke="#3d3d3d" stroke-width="0.5"/>
<text x="268.65" y="289.8" font-size="5.4" font-weight="bold" text-anchor="middle" fill="#1a1a1a">CHIP+</text>
<text x="209.7" y="242.5" font-size="5.6" font-weight="bold" font-style="italic" text-anchor="middle" fill="#1a1a1a" transform="rotate(-90 209.7 242.5)">Age (years)</text>
</g>
</svg>
</body>
</html>
